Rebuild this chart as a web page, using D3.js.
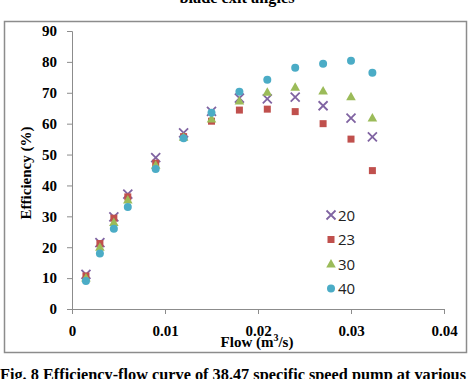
<!DOCTYPE html>
<html><head><meta charset="utf-8">
<script src="https://cdn.jsdelivr.net/npm/d3@7"></script>
<style>body{margin:0;background:#fff}svg{display:block}</style>
</head><body>
<script>
const flows = [0.0015, 0.003, 0.0045, 0.006, 0.009, 0.012, 0.015, 0.018, 0.021, 0.024, 0.027, 0.030, 0.0323];
const eff20 = [11.2, 21.5, 29.8, 37.2, 49, 57, 64, 68.3, 68, 68.6, 65.8, 61.8, 55.7];
const eff23 = [10.7, 21.2, 29.4, 36.3, 47.2, 55.8, 60.8, 64.4, 64.7, 63.9, 60, 55, 44.8];
const eff30 = [10, 20, 28, 35.3, 46.5, 55.6, 61.5, 67.3, 70.2, 71.8, 70.6, 68.7, 61.8];
const eff40 = [9.1, 18, 26, 33, 45.3, 55.3, 63.5, 70.3, 74.2, 78.1, 79.4, 80.4, 76.5];
const seriesNames = ["20", "23", "30", "40"];
const xTicks = [0, 0.01, 0.02, 0.03, 0.04];
const yTicks = [0, 10, 20, 30, 40, 50, 60, 70, 80, 90];
const colors = ["#8064A2", "#C0504D", "#9BBB59", "#4BACC6"];
const shapes = ["x", "square", "triangle", "circle"];

const W = 474, H = 379;
const svg = d3.select("body").append("svg").attr("width", W).attr("height", H);
const serif = "'Liberation Serif','Times New Roman',serif";

// top (cut) title
svg.append("text").attr("x", 237).attr("y", 3).attr("text-anchor", "middle")
  .attr("font-family", serif).attr("font-weight", "bold").attr("font-size", 17)
  .attr("textLength", 115).attr("lengthAdjust", "spacingAndGlyphs")
  .text("blade exit angles");

// outer chart border
svg.append("rect").attr("x", 4.5).attr("y", 21.5).attr("width", 462).attr("height", 331)
  .attr("fill", "none").attr("stroke", "#8c8c8c").attr("stroke-width", 1.5);

const x = d3.scaleLinear().domain([0, 0.04]).range([72, 444]);
const y = d3.scaleLinear().domain([0, 90]).range([309, 31]);

// axes
const xAxis = d3.axisBottom(x).tickValues(xTicks).tickSizeOuter(0).tickSize(5)
  .tickFormat(d => d === 0 ? "0" : d3.format(".2f")(d));
const gx = svg.append("g").attr("transform", "translate(0,309)").call(xAxis);
gx.select(".domain").attr("stroke", "#8c8c8c");
gx.selectAll(".tick line").attr("stroke", "#8c8c8c");
gx.selectAll(".tick text").attr("font-family", serif).attr("font-weight", "bold")
  .attr("font-size", 15).attr("fill", "#000").attr("dy", "0").attr("y", 27);

const yAxis = d3.axisLeft(y).tickValues(yTicks).tickSizeOuter(0).tickSize(5).tickPadding(10);
const gy = svg.append("g").attr("transform", "translate(72,0)").call(yAxis);
gy.select(".domain").attr("stroke", "#8c8c8c");
gy.selectAll(".tick line").attr("stroke", "#8c8c8c");
gy.selectAll(".tick text").attr("font-family", serif).attr("font-weight", "bold")
  .attr("font-size", 15).attr("fill", "#000");

// axis titles
svg.append("text").attr("x", 257).attr("y", 347).attr("text-anchor", "middle")
  .attr("font-family", serif).attr("font-weight", "bold").attr("font-size", 15)
  .html("Flow (m<tspan dy='-6' font-size='10'>3</tspan><tspan dy='6'>/s)</tspan>");
svg.append("text").attr("transform", "translate(31,173) rotate(-90)").attr("text-anchor", "middle")
  .attr("font-family", serif).attr("font-weight", "bold").attr("font-size", 15)
  .text("Efficiency (%)");

function drawMarker(g, shape, color, cx, cy) {
  if (shape === "x") {
    const s = 4.5;
    g.append("path").attr("d", `M${cx-s},${cy-s}L${cx+s},${cy+s}M${cx-s},${cy+s}L${cx+s},${cy-s}`)
      .attr("stroke", color).attr("stroke-width", 1.8).attr("fill", "none");
  } else if (shape === "square") {
    g.append("rect").attr("x", cx - 3.5).attr("y", cy - 3.5).attr("width", 7).attr("height", 7).attr("fill", color);
  } else if (shape === "triangle") {
    g.append("path").attr("d", `M${cx},${cy-5}L${cx+4.8},${cy+3.5}L${cx-4.8},${cy+3.5}Z`).attr("fill", color);
  } else {
    g.append("circle").attr("cx", cx).attr("cy", cy).attr("r", 4).attr("fill", color);
  }
}

const allSeries = [eff20, eff23, eff30, eff40];
const gm = svg.append("g");
allSeries.forEach((vals, i) => {
  vals.forEach((v, j) => drawMarker(gm, shapes[i], colors[i], x(flows[j]), y(v)));
});

// legend
const lg = svg.append("g");
seriesNames.forEach((name, i) => {
  const ly = 215 + i * 24.5;
  drawMarker(lg, shapes[i], colors[i], 331, ly);
  lg.append("text").attr("x", 338).attr("y", ly + 5.5)
    .attr("font-family", "'Open Sans','DejaVu Sans',sans-serif").attr("font-size", 15).attr("fill", "#222")
    .text(name);
});

// bottom caption (cut)
svg.append("text").attr("x", 0).attr("y", 380)
  .attr("font-family", serif).attr("font-weight", "bold").attr("font-size", 16)
  .attr("textLength", 466).attr("lengthAdjust", "spacingAndGlyphs")
  .text("Fig. 8 Efficiency-flow curve of 38.47 specific speed pump at various");
</script>
</body></html>
